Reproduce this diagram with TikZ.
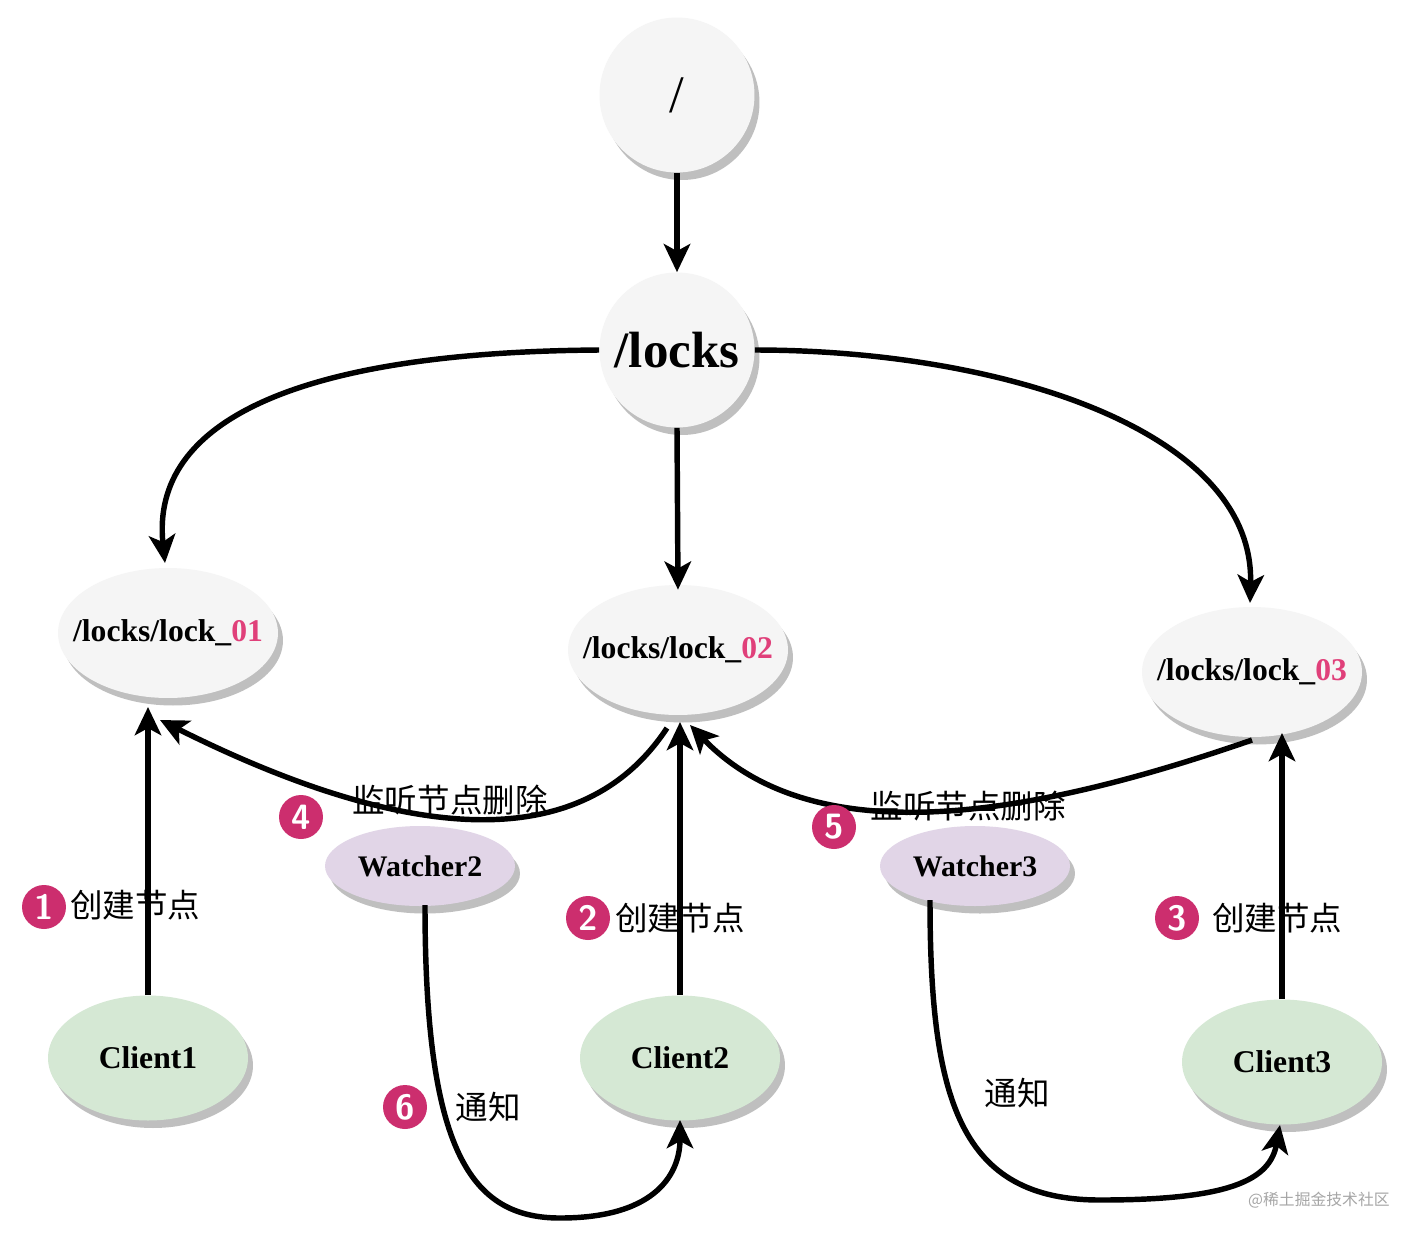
\documentclass[tikz,border=0pt]{standalone}
\usepackage{fontspec}
\setmainfont{Liberation Serif}
\newfontfamily\cjk{Noto Sans CJK SC}
\usetikzlibrary{shadows,arrows.meta,shapes.geometric}
\definecolor{nodegray}{HTML}{F5F5F5}
\definecolor{shadowgray}{HTML}{BFBFBF}
\definecolor{wpurple}{HTML}{E1D5E7}
\definecolor{cgreen}{HTML}{D5E8D4}
\definecolor{badge}{HTML}{CC2E6E}
\definecolor{pinknum}{HTML}{E0407A}
\begin{document}
\begin{tikzpicture}[x=0.02cm,y=-0.02cm,
  sh/.style={drop shadow={shadow xshift=0.1cm,shadow yshift=-0.15cm,fill=shadowgray,opacity=1}},
  circ/.style={circle,fill=nodegray,sh,minimum size=3.1cm,inner sep=0pt},
  lock/.style={ellipse,fill=nodegray,sh,minimum width=4.4cm,minimum height=2.6cm,inner xsep=-22pt,inner ysep=0pt,font=\bfseries\fontsize{18}{20}\selectfont},
  watch/.style={ellipse,fill=wpurple,sh,minimum width=3.8cm,minimum height=1.6cm,inner xsep=-14pt,inner ysep=0pt,font=\bfseries\fontsize{17}{20}\selectfont},
  client/.style={ellipse,fill=cgreen,sh,minimum width=4cm,minimum height=2.5cm,inner sep=0pt,font=\bfseries\fontsize{18}{20}\selectfont},
  arr/.style={line width=3.1pt,-{Stealth[length=16pt,width=15pt,inset=4pt]}},
  bd/.style={circle,fill=badge,text=white,minimum size=0.88cm,inner sep=0pt,font=\sffamily\bfseries\fontsize{20}{20}\selectfont},
  lbl/.style={font=\cjk\fontsize{18.5}{20}\selectfont,inner sep=0pt}]
\useasboundingbox (0,0) rectangle (1420,1242);
\fill[white] (0,0) rectangle (1420,1242);
\node[circ,font=\fontsize{30}{30}\selectfont] (root) at (677,95) {/};
\node[circ,font=\bfseries\fontsize{29}{30}\selectfont] (locks) at (677,350) {/locks};
\node[lock] (l1) at (168,633) {/locks/lock\_{\color{pinknum}01}};
\node[lock] (l2) at (678,650) {/locks/lock\_{\color{pinknum}02}};
\node[lock] (l3) at (1252,672) {/locks/lock\_{\color{pinknum}03}};
\node[watch] (w2) at (420,866) {Watcher2};
\node[watch] (w3) at (975,866) {Watcher3};
\node[client] (c1) at (148,1058) {Client1};
\node[client] (c2) at (680,1058) {Client2};
\node[client] (c3) at (1282,1062) {Client3};
\coordinate (lt1) at (165,563);
\coordinate (lt3) at (1250,603);
\draw[arr] (root.south) -- (locks.north);
\draw[arr] (locks.south) -- ([yshift=-0.1cm]l2.north);
\draw[arr] (locks.west) .. controls (300,352) and (150,420) .. (lt1);
\draw[arr] (locks.east) .. controls (1000,350) and (1255,430) .. (lt3);
\draw[arr] (c1.north) -- (148,707);
\draw[arr] (c2.north) -- (680,722);
\draw[arr] (c3.north) -- (1282,733);
\draw[arr] (667,728) .. controls (580,860) and (400,840) .. (160,720);
\draw[arr] (1252,740) .. controls (1050,810) and (820,860) .. (690,725);
\draw[arr] (425,905) .. controls (425,1150) and (470,1218) .. (560,1218) .. controls (660,1218) and (680,1170) .. (680,1120);
\draw[arr] (930,900) .. controls (930,1100) and (960,1200) .. (1100,1200) .. controls (1230,1200) and (1270,1180) .. (1280,1125);
\node[bd] (b1) at (44,907) {1};
\node[bd] (b2) at (588,918) {2};
\node[bd] (b3) at (1177,918) {3};
\node[bd] (b4) at (301,817) {4};
\node[bd] (b5) at (834,827) {5};
\node[bd] (b6) at (405,1107) {6};
\node[lbl,anchor=west] (t1) at (70,905) {创建节点};
\node[lbl,anchor=west] (t2) at (615,918) {创建节点};
\node[lbl,anchor=west] (t3) at (1212,918) {创建节点};
\node[lbl] (t4) at (450,800) {监听节点删除};
\node[lbl] (t5) at (968,806) {监听节点删除};
\node[lbl] (t6) at (488,1107) {通知};
\node[lbl] (t7) at (1017,1093) {通知};
\node[lbl,text=gray!70,font=\cjk\fontsize{9}{10}\selectfont,anchor=east] (wm) at (1390,1200) {@稀土掘金技术社区};
\end{tikzpicture}
\end{document}
